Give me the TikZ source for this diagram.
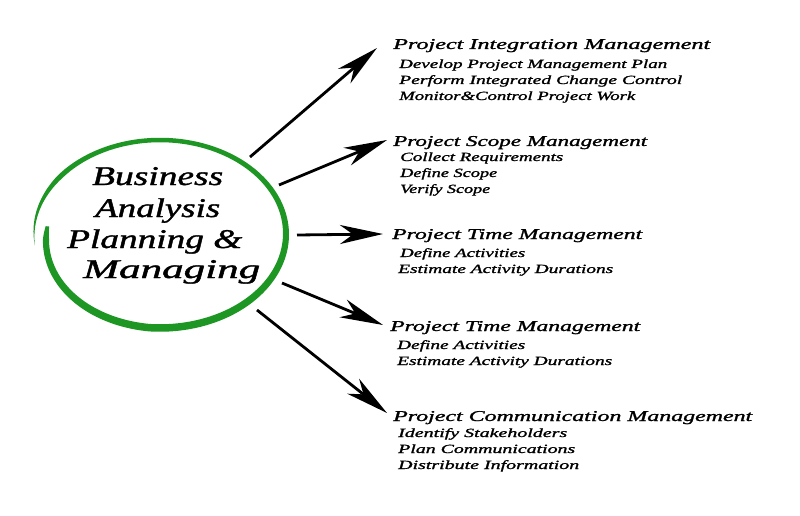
\documentclass[tikz,border=0pt]{standalone}
\usepackage{fontspec}
\setmainfont{Liberation Serif}[ItalicFeatures={FakeBold=1.2}]
\usetikzlibrary{arrows.meta,calc}
\definecolor{ringgreen}{RGB}{30,150,36}
\newcommand{\fw}[2]{\resizebox{#1pt}{\height}{#2}}
\begin{document}
\begin{tikzpicture}[x=1pt,y=-1pt,
  ttl/.style={anchor=base west, inner sep=0pt, font=\fontsize{15}{15}\selectfont\itshape},
  itm/.style={anchor=base west, inner sep=0pt, font=\fontsize{12.5}{12.5}\selectfont\itshape},
  ctr/.style={anchor=base west, inner sep=0pt, font=\fontsize{27}{27}\selectfont\itshape},
  arr/.style={line width=2.8pt, -{Stealth[length=43pt,width=19pt,inset=13pt]}},
  declare function={erx(\t)=126-13*max(0,\t-95)/90; ery(\t)=94-6*max(0,\t-95)/90;
    eww(\t)=(6+1.5*sin(\t))*min(1,0.6+(185-\t)/20)*min(1,(\t+187)/45);}
]
\useasboundingbox (0,0) rectangle (800,516);
\fill[white] (0,0) rectangle (800,516);

% ring
\fill[ringgreen] plot[domain=-187:185,samples=220,smooth]
   ({160+(erx(\x)+eww(\x)/2)*cos(\x)},{234+(ery(\x)+eww(\x)/2)*sin(\x)})
   -- plot[domain=185:-187,samples=220,smooth]
   ({160+(erx(\x)-eww(\x)/2)*cos(\x)},{234+(ery(\x)-eww(\x)/2)*sin(\x)}) -- cycle;

% centre text
\node[ctr] (c1) at (92,185) {\fw{131}{Business}};
\node[ctr] (c2) at (95,217) {\fw{125}{Analysis}};
\node[ctr] (c3) at (67,248) {\fw{175}{Planning \&}};
\node[ctr] (c4) at (83,278) {\fw{177}{Managing}};

% block 1
\node[ttl] (t1) at (393,49) {\fw{317}{Project Integration Management}};
\node[itm] (t1a) at (399,68) {\fw{268}{Develop Project Management Plan}};
\node[itm] (t1b) at (399,84) {\fw{283}{Perform Integrated Change Control}};
\node[itm] (t1c) at (399,100) {\fw{236}{Monitor\&Control Project Work}};

% block 2
\node[ttl] (t2) at (393,146) {\fw{254}{Project Scope Management}};
\node[itm] (t2a) at (400,161) {\fw{163}{Collect Requirements}};
\node[itm] (t2b) at (400,177) {\fw{97}{Define Scope}};
\node[itm] (t2c) at (400,193) {\fw{90}{Verify Scope}};

% block 3
\node[ttl] (t3) at (392,239) {\fw{250}{Project Time Management}};
\node[itm] (t3a) at (400,257) {\fw{125}{Define Activities}};
\node[itm] (t3b) at (398,273) {\fw{215}{Estimate Activity Durations}};

% block 4
\node[ttl] (t4) at (390,331) {\fw{250}{Project Time Management}};
\node[itm] (t4a) at (397,349) {\fw{128}{Define Activities}};
\node[itm] (t4b) at (397,365) {\fw{215}{Estimate Activity Durations}};

% block 5
\node[ttl] (t5) at (393,421) {\fw{359}{Project Communication Management}};
\node[itm] (t5a) at (398,437) {\fw{169}{Identify Stakeholders}};
\node[itm] (t5b) at (398,453) {\fw{177}{Plan Communications}};
\node[itm] (t5c) at (398,469) {\fw{181}{Distribute Information}};

% arrows
\coordinate (s1) at (250,157); \coordinate (e1) at (377,48);
\coordinate (s2) at (279,185); \coordinate (e2) at (387,140);
\coordinate (s3) at (297,235); \coordinate (e3) at (383,234);
\coordinate (s4) at (282,283); \coordinate (e4) at (383,325);
\coordinate (s5) at (257,310); \coordinate (e5) at (387,413);
\draw[arr] (s1) -- (e1);
\draw[arr] (s2) -- (e2);
\draw[arr] (s3) -- (e3);
\draw[arr] (s4) -- (e4);
\draw[arr] (s5) -- (e5);
\end{tikzpicture}
\end{document}
